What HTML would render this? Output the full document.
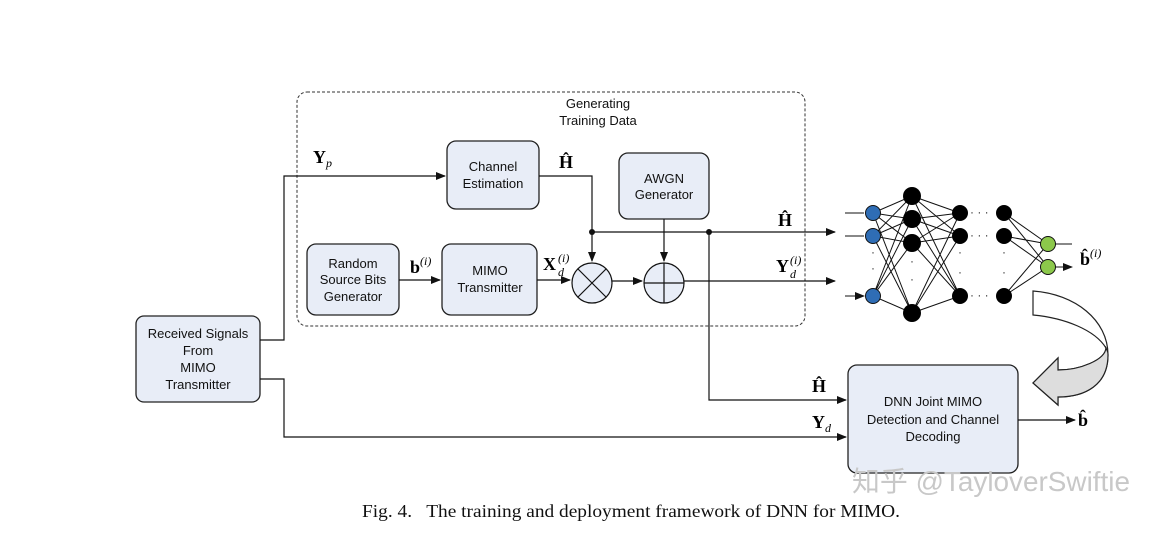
<!DOCTYPE html>
<html><head><meta charset="utf-8"><style>
body{margin:0;background:#fff}
svg text{font-family:"Liberation Sans",sans-serif}
.b{fill:#e8edf7;stroke:#222;stroke-width:1.3}
.t{font-size:13px;text-anchor:middle;fill:#111}
.m{font-family:"Liberation Serif",serif !important;font-weight:bold;font-size:18px}
.s{font-family:"Liberation Serif",serif !important;font-style:italic;font-weight:normal;font-size:12px}
</style></head><body>
<svg width="1159" height="532" viewBox="0 0 1159 532" xmlns="http://www.w3.org/2000/svg">
<defs><marker id="a" markerWidth="10" markerHeight="8" refX="9" refY="4" orient="auto" markerUnits="userSpaceOnUse"><path d="M0,0L10,4L0,8z" fill="#111"/></marker></defs>
<rect x="297" y="92" width="508" height="234" rx="10" fill="none" stroke="#333" stroke-dasharray="3,2"/>
<text class="t" x="598" y="108">Generating</text><text class="t" x="598" y="125">Training Data</text>
<rect class="b" x="447" y="141" width="92" height="68" rx="9"/><text class="t" x="493" y="171">Channel</text><text class="t" x="493" y="188">Estimation</text>
<rect class="b" x="619" y="153" width="90" height="66" rx="9"/><text class="t" x="664" y="183">AWGN</text><text class="t" x="664" y="199">Generator</text>
<rect class="b" x="307" y="244" width="92" height="71" rx="9"/><text class="t" x="353" y="268">Random</text><text class="t" x="353" y="284">Source Bits</text><text class="t" x="353" y="301">Generator</text>
<rect class="b" x="442" y="244" width="95" height="71" rx="9"/><text class="t" x="490" y="275">MIMO</text><text class="t" x="490" y="292">Transmitter</text>
<rect class="b" x="136" y="316" width="124" height="86" rx="8"/><text class="t" x="198" y="338">Received Signals</text><text class="t" x="198" y="355">From</text><text class="t" x="198" y="372">MIMO</text><text class="t" x="198" y="389">Transmitter</text>
<rect class="b" x="848" y="365" width="170" height="108" rx="9"/><text class="t" x="933" y="406">DNN Joint MIMO</text><text class="t" x="933" y="424">Detection and Channel</text><text class="t" x="933" y="441">Decoding</text>
<g fill="none" stroke="#111" stroke-width="1.2">
<circle cx="592" cy="283" r="20" fill="#e8edf7"/><path d="M578,269L606,297M606,269L578,297"/>
<circle cx="664" cy="283" r="20" fill="#e8edf7"/><path d="M664,263V303M644,283H684"/>
<path d="M260,340H284V176H445" marker-end="url(#a)"/>
<path d="M539,176H592V261" marker-end="url(#a)"/>
<path d="M592,232H835" marker-end="url(#a)"/>
<path d="M664,219V261" marker-end="url(#a)"/>
<path d="M399,280H440" marker-end="url(#a)"/>
<path d="M537,280H570" marker-end="url(#a)"/>
<path d="M612,281H642" marker-end="url(#a)"/>
<path d="M684,281H835" marker-end="url(#a)"/>
<path d="M709,232V400H846" marker-end="url(#a)"/>
<path d="M260,379H284V437H846" marker-end="url(#a)"/>
<path d="M1018,420H1075" marker-end="url(#a)"/>
</g>
<circle cx="592" cy="232" r="3" fill="#111"/><circle cx="709" cy="232" r="3" fill="#111"/>
<text class="m" x="313" y="163">Y<tspan class="s" dy="4">p</tspan></text>
<text class="m" x="559" y="168">Ĥ</text>
<text class="m" x="410" y="273">b<tspan class="s" dy="-8">(i)</tspan></text>
<text class="m" x="543" y="270">X</text><text class="s" x="558" y="262">(i)</text><text class="s" x="558" y="276">d</text>
<text class="m" x="778" y="226">Ĥ</text>
<text class="m" x="776" y="272">Y</text><text class="s" x="790" y="264">(i)</text><text class="s" x="790" y="278">d</text>
<text class="m" x="812" y="392">Ĥ</text>
<text class="m" x="812" y="428">Y<tspan class="s" dy="4">d</tspan></text>
<text class="m" x="1078" y="426">b̂</text>
<text class="m" x="1080" y="265">b̂<tspan class="s" dy="-8">(i)</tspan></text>
<g stroke="#111" stroke-width="1">
<path d="M873,213L912,196M873,213L912,219M873,213L912,243M873,213L912,313M873,236L912,196M873,236L912,219M873,236L912,243M873,236L912,313M873,296L912,196M873,296L912,219M873,296L912,243M873,296L912,313"/>
<path d="M912,196L960,213M912,196L960,236M912,196L960,296M912,219L960,213M912,219L960,236M912,219L960,296M912,243L960,213M912,243L960,236M912,243L960,296M912,313L960,213M912,313L960,236M912,313L960,296"/>
<path d="M1004,213L1048,244M1004,213L1048,267M1004,236L1048,244M1004,236L1048,267M1004,296L1048,244M1004,296L1048,267"/>
<path d="M845,213H864M845,236H864M845,296H864" marker-end="url(#a)"/>
<path d="M1055,244H1072M1055,267H1072" marker-end="url(#a)"/>
</g>
<g fill="#2f6db5" stroke="#111"><circle cx="873" cy="213" r="7.5"/><circle cx="873" cy="236" r="7.5"/><circle cx="873" cy="296" r="7.5"/></g>
<g fill="#000"><circle cx="912" cy="196" r="9"/><circle cx="912" cy="219" r="9"/><circle cx="912" cy="243" r="9"/><circle cx="912" cy="313" r="9"/>
<circle cx="960" cy="213" r="8"/><circle cx="960" cy="236" r="8"/><circle cx="960" cy="296" r="8"/>
<circle cx="1004" cy="213" r="8"/><circle cx="1004" cy="236" r="8"/><circle cx="1004" cy="296" r="8"/></g>
<g fill="#8cc84b" stroke="#111"><circle cx="1048" cy="244" r="7.5"/><circle cx="1048" cy="267" r="7.5"/></g>
<g fill="#333" font-size="12"><text x="970" y="216">· · ·</text><text x="970" y="239">· · ·</text><text x="970" y="299">· · ·</text>
<text x="871" y="256">·</text><text x="871" y="272">·</text><text x="910" y="265">·</text><text x="910" y="283">·</text><text x="958" y="256">·</text><text x="958" y="276">·</text><text x="1002" y="256">·</text><text x="1002" y="276">·</text></g>
<path d="M1033,291C1075,294 1108,320 1108,355C1108,385 1085,397 1058,397L1058,405L1033,383L1058,358L1058,370C1080,370 1105,360 1106,348C1095,330 1065,318 1033,315Z" fill="#fff" stroke="#222" stroke-width="1.2"/>
<path d="M1106,348C1108,352 1108,353 1108,355C1108,385 1085,397 1058,397L1058,405L1033,383L1058,358L1058,370C1080,370 1105,360 1106,348Z" fill="#ddd" stroke="#222" stroke-width="1.2"/>
<text x="852" y="491" font-size="28" fill="#c8c8c8" textLength="278" lengthAdjust="spacingAndGlyphs" style="font-family:'Liberation Sans','Noto Sans CJK SC',sans-serif">知乎 @TayloverSwiftie</text>
<text x="362" y="517" font-size="18" textLength="538" lengthAdjust="spacingAndGlyphs" style="font-family:'Liberation Serif',serif;white-space:pre" fill="#111">Fig. 4.   The training and deployment framework of DNN for MIMO.</text>
</svg>
</body></html>
